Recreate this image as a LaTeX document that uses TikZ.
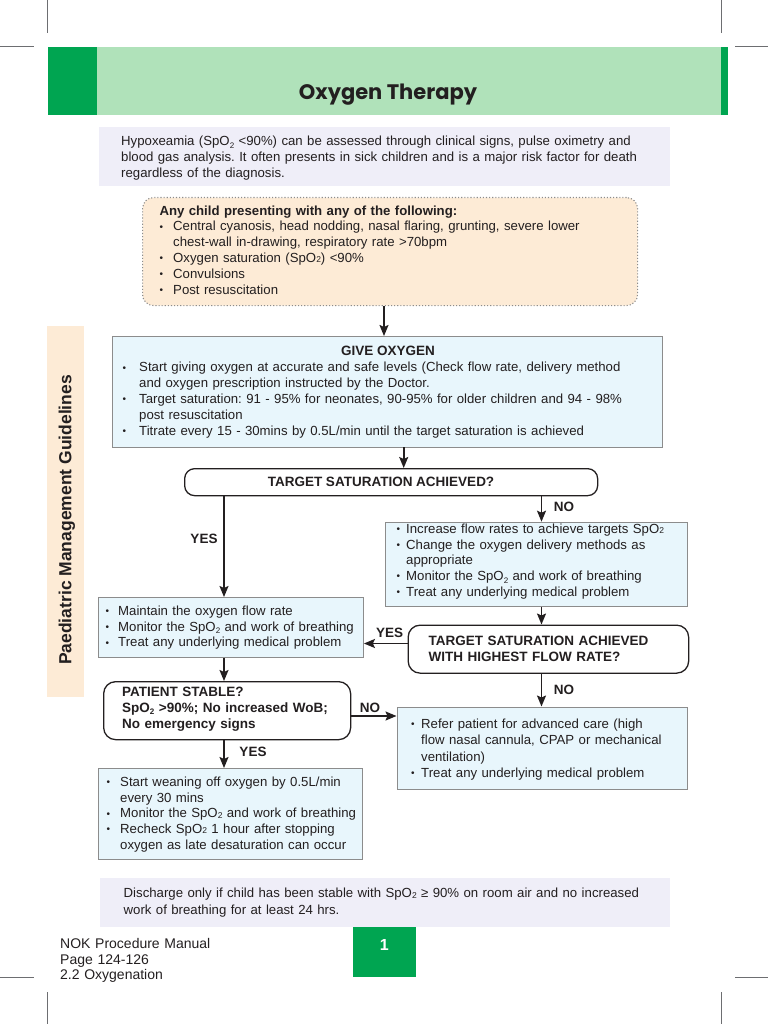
\documentclass[tikz,border=0pt]{standalone}
\usepackage{fontspec}
\setmainfont{Liberation Sans}
\newfontfamily\titlefont{Poppins}
\usetikzlibrary{arrows.meta}
\definecolor{dgreen}{HTML}{00A551}
\definecolor{lgreen}{HTML}{B0E2BA}
\definecolor{lav}{HTML}{EFEEF8}
\definecolor{peach}{HTML}{FDEBD6}
\definecolor{lblue}{HTML}{E8F6FC}
\definecolor{bgray}{HTML}{8C8C8C}
\definecolor{ink}{HTML}{231F20}
\definecolor{cropc}{HTML}{6D6E71}
\frenchspacing
\newlength\bgap
\newcommand\bul{{\fontsize{10}{10}\selectfont\raisebox{0.8pt}{•}}}
\newcommand\bl[1]{\makebox[\bgap][l]{\bul}#1}
\newcommand\cl[1]{\hspace*{\bgap}#1}
\newcommand\fst{\rule{0pt}{10pt}}
\newcommand\sbs{\raisebox{-2.5pt}{\fontsize{8}{8}\selectfont 2}}
\newcommand\sbu{\raisebox{-0.3pt}{\fontsize{8.5}{8.5}\selectfont 2}}
\begin{document}
\begin{tikzpicture}[x=1pt,y=-1pt,
  txt/.style={anchor=north west, inner sep=0pt, text width=580pt, align=left, text=ink, font=\fontsize{13.2}{15.8}\selectfont},
  bluebox/.style={draw=bgray, line width=0.9pt, fill=lblue, inner sep=0pt, anchor=north west},
  lavbox/.style={fill=lav, inner sep=0pt, anchor=north west},
  orbox/.style={draw=bgray, line width=1.1pt, dotted, fill=peach, rounded corners=11pt, inner sep=0pt, anchor=north west},
  decbox/.style={draw=ink, line width=1.3pt, fill=white, rounded corners=12pt, inner sep=0pt, anchor=north west},
  lbl/.style={anchor=base, text=ink, inner sep=0pt, font=\bfseries\fontsize{13.5}{13.5}\selectfont},
  arr/.style={draw=ink, line width=1.6pt, -{Stealth[length=11pt,width=9pt,inset=2pt]}},
  crop/.style={draw=cropc, line width=1pt}]
\useasboundingbox (0,0) rectangle (768,1024);
% crop marks
\draw[crop] (47.5,0) -- (47.5,33);
\draw[crop] (0,46.7) -- (34,46.7);
\draw[crop] (721.5,0) -- (721.5,33);
\draw[crop] (735,46.7) -- (768,46.7);
\draw[crop] (0,977) -- (34,977);
\draw[crop] (735,977) -- (768,977);
\draw[crop] (47.5,992) -- (47.5,1024);
\draw[crop] (721.5,992) -- (721.5,1024);
% header
\fill[lgreen] (47.5,46.7) rectangle (728,115);
\fill[dgreen] (47.5,46.7) rectangle (97,115);
\fill[dgreen] (720.5,46.7) rectangle (728,115);
\node[anchor=base, inner sep=0pt, text=ink, font=\titlefont\bfseries\fontsize{21}{21}\selectfont] (title) at (388,100) {Oxygen Therapy};
% side bar
\fill[peach] (47,326) rectangle (84,697);
\node[rotate=90, inner sep=0pt, text=ink, font=\bfseries\fontsize{17.5}{17.5}\selectfont] (side) at (67,520) {Paediatric Management Guidelines};
% intro
\node[lavbox, minimum width=571pt, minimum height=59pt] (intro) at (99,127) {};
\node[txt] (introt) at (121,135.5) {\noindent\fst Hypoxeamia (SpO\sbs{} <90\%) can be assessed through clinical signs, pulse oximetry and\\blood gas analysis. It often presents in sick children and is a major risk factor for death\\regardless of the diagnosis.};
% orange box
\node[orbox, minimum width=495pt, minimum height=108pt] (crit) at (142,197) {};
\node[txt] (critt) at (159.3,205) {\setlength\bgap{13.7pt}\noindent\fst\textbf{Any child presenting with any of the following:}\\
\bl{Central cyanosis, head nodding, nasal flaring, grunting, severe lower}\\
\cl{chest-wall in-drawing, respiratory rate >70bpm}\\
\bl{Oxygen saturation (SpO\sbu) <90\%}\\
\bl{Convulsions}\\
\bl{Post resuscitation}};
% give oxygen
\node[bluebox, minimum width=550pt, minimum height=110.5pt] (give) at (112,336) {};
\node[lbl] (givet) at (388,355.7) {GIVE OXYGEN};
\node[txt] (givel) at (122.3,361.7) {\setlength\bgap{16.7pt}\noindent\fst\bl{Start giving oxygen at accurate and safe levels (Check flow rate, delivery method}\\
\cl{and oxygen prescription instructed by the Doctor.}\\
\bl{Target saturation: 91 - 95\% for neonates, 90-95\% for older children and 94 - 98\%}\\
\cl{post resuscitation}\\
\bl{Titrate every 15 - 30mins by 0.5L/min until the target saturation is achieved}};
% target saturation achieved?
\node[decbox, rounded corners=10pt, minimum width=413pt, minimum height=27pt] (tsa) at (184,468) {};
\node[lbl] (tsat) at (381,486) {TARGET SATURATION ACHIEVED?};
% increase box
\node[bluebox, minimum width=302pt, minimum height=84.3pt] (inc) at (385,521.7) {};
\node[txt] (inct) at (396.3,523) {\setlength\bgap{9.7pt}\noindent\fst\bl{Increase flow rates to achieve targets SpO\sbu}\\
\bl{Change the oxygen delivery methods as}\\
\cl{appropriate}\\
\bl{Monitor the SpO\sbs{} and work of breathing}\\
\bl{Treat any underlying medical problem}};
% target saturation with highest flow
\node[decbox, minimum width=280.5pt, minimum height=48pt] (tsa2) at (407.5,624.5) {};
\node[txt, font=\bfseries\fontsize{13.5}{16}\selectfont] (tsa2t) at (428.5,635) {\noindent\fst TARGET SATURATION ACHIEVED\\WITH HIGHEST FLOW RATE?};
% maintain box
\node[bluebox, minimum width=265.3pt, minimum height=60pt] (maint) at (97.7,597) {};
\node[txt] (maintt) at (105.5,605) {\setlength\bgap{12.5pt}\noindent\fst\bl{Maintain the oxygen flow rate}\\
\bl{Monitor the SpO\sbs{} and work of breathing}\\
\bl{Treat any underlying medical problem}};
% patient stable
\node[decbox, minimum width=247pt, minimum height=58pt] (pat) at (103,681) {};
\node[txt, font=\bfseries\fontsize{13.5}{16}\selectfont] (patt) at (122,686) {\noindent\fst PATIENT STABLE?\\SpO\sbs{} >90\%; No increased WoB;\\No emergency signs};
% refer box
\node[bluebox, minimum width=290.5pt, minimum height=82pt] (refer) at (396.5,706.5) {};
\node[txt, font=\fontsize{13.2}{16.4}\selectfont] (refert) at (411,718) {\setlength\bgap{10pt}\noindent\fst\bl{Refer patient for advanced care (high}\\
\cl{flow nasal cannula, CPAP or mechanical}\\
\cl{ventilation)}\\
\bl{Treat any underlying medical problem}};
% weaning box
\node[bluebox, minimum width=264.3pt, minimum height=91pt] (wean) at (97.7,768) {};
\node[txt] (weant) at (106.3,776) {\setlength\bgap{13.7pt}\noindent\fst\bl{Start weaning off oxygen by 0.5L/min}\\
\cl{every 30 mins}\\
\bl{Monitor the SpO\sbu{} and work of breathing}\\
\bl{Recheck SpO\sbu{} 1 hour after stopping}\\
\cl{oxygen as late desaturation can occur}};
% discharge
\node[lavbox, minimum width=570.5pt, minimum height=49pt] (dis) at (99.5,878) {};
\node[txt, font=\fontsize{13.2}{17}\selectfont] (dist) at (123.5,887.5) {\noindent\fst Discharge only if child has been stable with SpO\sbu{} ≥ 90\% on room air and no increased\\work of breathing for at least 24 hrs.};
% footer
\node[txt, font=\fontsize{14}{15.7}\selectfont] (foot) at (60,938) {\noindent\fst NOK Procedure Manual\\Page 124-126\\2.2 Oxygenation};
\node[fill=dgreen, inner sep=0pt, anchor=north west, minimum width=62.7pt, minimum height=50pt] (pg) at (353,927) {};
\node[anchor=base, inner sep=0pt, text=white, font=\bfseries\fontsize{16}{16}\selectfont] (pgt) at (384.3,950) {1};
% connector x/y positions
\coordinate (xa) at (384,0);
\coordinate (xb) at (403.7,0);
\coordinate (xl) at (224,0);
\coordinate (xr) at (541.5,0);
\coordinate (ya) at (0,643.5);
\coordinate (yb) at (0,716);
% connectors
\draw[arr] (crit.south -| xa) -- (give.north -| xa);
\draw[arr] (give.south -| xb) -- (tsa.north -| xb);
\draw[arr] (tsa.south -| xl) -- (maint.north -| xl);
\draw[arr] (tsa.south -| xr) -- (inc.north -| xr);
\draw[arr] (inc.south -| xr) -- (tsa2.north -| xr);
\draw[arr] (tsa2.west |- ya) -- (maint.east |- ya);
\draw[arr] (maint.south -| xl) -- (pat.north -| xl);
\draw[arr] (pat.east |- yb) -- (refer.west |- yb);
\draw[arr] (tsa2.south -| xr) -- (refer.north -| xr);
\draw[arr] (pat.south -| xl) -- (wean.north -| xl);
% labels
\node[lbl] (yes1) at (204,543) {YES};
\node[lbl] (no1) at (564,511.7) {NO};
\node[lbl] (yes2) at (389.5,637.7) {YES};
\node[lbl] (no2) at (370,712) {NO};
\node[lbl] (no3) at (564,694) {NO};
\node[lbl] (yes3) at (253,756) {YES};
\end{tikzpicture}
\end{document}
